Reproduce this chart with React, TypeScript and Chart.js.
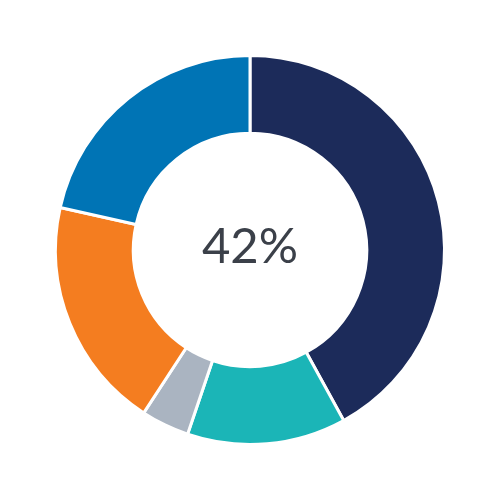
import { useEffect, useRef } from 'react';
import { Chart, registerables } from 'chart.js';

Chart.register(...registerables);

const labels = ['Navy', 'Teal', 'Gray', 'Orange', 'Blue'];
const values = [42, 13.2, 4, 19.3, 21.5];
const colors = ['#1c2b5a', '#1bb5b7', '#aab4c1', '#f47d20', '#0074b5'];
const centerLabel = '42%';

export default function App() {
  const chartRef = useRef<HTMLCanvasElement>(null);
  const chartInstance = useRef<Chart | null>(null);

  useEffect(() => {
    if (!chartRef.current) return;
    if (chartInstance.current) chartInstance.current.destroy();

    chartInstance.current = new Chart(chartRef.current, {
      type: 'doughnut',
      data: {
        labels,
        datasets: [
          {
            data: values,
            backgroundColor: colors,
            borderColor: '#ffffff',
            borderWidth: 3,
          },
        ],
      },
      options: {
        animation: false,
        responsive: true,
        maintainAspectRatio: false,
        cutout: '60%',
        layout: { padding: 46 },
        plugins: {
          legend: { display: false },
          tooltip: { enabled: false },
        },
      },
    });

    return () => {
      if (chartInstance.current) {
        chartInstance.current.destroy();
        chartInstance.current = null;
      }
    };
  }, []);

  return (
    <div style={{ position: 'relative', width: 484, height: 484 }}>
      <canvas ref={chartRef} />
      <div
        style={{
          position: 'absolute',
          left: 0,
          top: 0,
          width: 484,
          height: 484,
          display: 'flex',
          alignItems: 'center',
          justifyContent: 'center',
          fontFamily: 'Lato, sans-serif',
          fontSize: 49,
          color: '#3b4049',
          pointerEvents: 'none',
        }}
      >
        <span style={{ marginTop: -12 }}>{centerLabel}</span>
      </div>
    </div>
  );
}
